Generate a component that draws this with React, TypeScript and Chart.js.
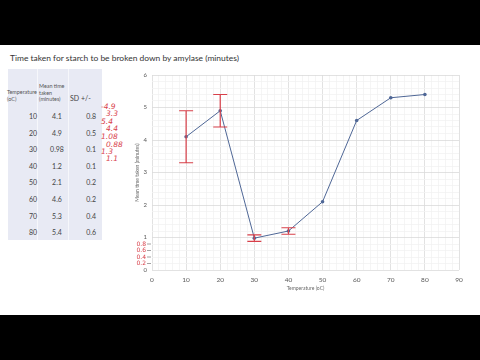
import { useEffect, useRef } from "react";
import { Chart, registerables } from "chart.js";

Chart.register(...registerables);

const temperatures = [10, 20, 30, 40, 50, 60, 70, 80];
const meanTimes = [4.1, 4.9, 0.98, 1.2, 2.1, 4.6, 5.3, 5.4];
const meanLabels = ["4.1", "4.9", "0.98", "1.2", "2.1", "4.6", "5.3", "5.4"];
const sdLabels = ["0.8", "0.5", "0.1", "0.1", "0.2", "0.2", "0.4", "0.6"];
const errorTemps = [10, 20, 30, 40];
const errorLow = [3.3, 4.4, 0.88, 1.1];
const errorHigh = [4.9, 5.4, 1.08, 1.3];
const noteLabels = ["-4.9", "3.3", "5.4", "4.4", "1.08", "0.88", "1.3", "1.1"];
const axisNoteValues = [0.8, 0.6, 0.4, 0.2];
const axisNoteLabels = ["0.8", "0.6", "0.4", "0.2"];

const TITLE = "Time taken for starch to be broken down by amylase (minutes)";
const RED = "#d8404a";
const LINE = "#4f6796";

const errorBarPlugin = {
  id: "errorBars",
  afterDatasetsDraw(chart: any) {
    const { ctx, scales } = chart;
    const x = scales.x;
    const y = scales.y;
    ctx.save();
    ctx.strokeStyle = RED;
    ctx.lineWidth = 1.2;
    errorTemps.forEach((t, i) => {
      const px = x.getPixelForValue(t);
      const top = y.getPixelForValue(errorHigh[i]);
      const bot = y.getPixelForValue(errorLow[i]);
      const cap = 7;
      ctx.beginPath();
      ctx.moveTo(px, top);
      ctx.lineTo(px, bot);
      ctx.moveTo(px - cap, top);
      ctx.lineTo(px + cap, top);
      ctx.moveTo(px - cap, bot);
      ctx.lineTo(px + cap, bot);
      ctx.stroke();
    });
    ctx.font = '6px "DejaVu Sans"';
    ctx.textAlign = "right";
    ctx.textBaseline = "middle";
    axisNoteValues.forEach((v, i) => {
      const py = y.getPixelForValue(v);
      ctx.fillStyle = RED;
      ctx.fillText(axisNoteLabels[i], x.left - 6, py);
      ctx.strokeStyle = "#8a8a8a";
      ctx.lineWidth = 0.8;
      ctx.beginPath();
      ctx.moveTo(x.left - 5, py);
      ctx.lineTo(x.left - 1, py);
      ctx.stroke();
    });
    ctx.restore();
  },
};

function isMultiple(v: number, step: number) {
  const r = v / step;
  return Math.abs(r - Math.round(r)) < 1e-6;
}

function ChartPanel() {
  const ref = useRef<HTMLCanvasElement | null>(null);
  useEffect(() => {
    if (!ref.current) return;
    const chart = new Chart(ref.current, {
      type: "line",
      data: {
        datasets: [
          {
            data: temperatures.map((t, i) => ({ x: t, y: meanTimes[i] })),
            borderColor: LINE,
            backgroundColor: LINE,
            borderWidth: 1,
            pointRadius: 1.8,
            pointBorderWidth: 0,
            tension: 0,
          },
        ],
      },
      plugins: [errorBarPlugin],
      options: {
        animation: false,
        responsive: false,
        maintainAspectRatio: false,
        layout: { padding: { top: 10, right: 16, left: 0, bottom: 0 } },
        plugins: { legend: { display: false }, tooltip: { enabled: false } },
        scales: {
          x: {
            type: "linear",
            min: 0,
            max: 90,
            afterFit: (s: any) => {
              s.height = 25;
            },
            ticks: {
              stepSize: 2,
              autoSkip: false,
              maxRotation: 0,
              padding: 6,
              color: "#595959",
              font: { family: "Lato", size: 6.5 },
              callback: (v: any) => (isMultiple(Number(v), 10) ? String(v) : ""),
            },
            grid: {
              drawTicks: false,
              color: (c: any) => (isMultiple(c.tick.value, 10) ? "#dadada" : "#f3f3f3"),
              lineWidth: 0.8,
            },
            border: { display: false },
            title: {
              display: true,
              text: "Temperature (oC)",
              color: "#6a6a6a",
              font: { family: "Lato", size: 5 },
              padding: { top: 4, bottom: 4 },
            },
          },
          y: {
            min: 0,
            max: 6,
            afterFit: (s: any) => {
              s.width = 22;
            },
            ticks: {
              stepSize: 0.2,
              autoSkip: false,
              padding: 5,
              color: "#595959",
              font: { family: "Lato", size: 6 },
              callback: (v: any) => (isMultiple(Number(v), 1) ? String(Math.round(Number(v))) : ""),
            },
            grid: {
              drawTicks: false,
              color: (c: any) => (isMultiple(c.tick.value, 1) ? "#dadada" : "#f3f3f3"),
              lineWidth: 0.8,
            },
            border: { display: false },
            title: {
              display: true,
              text: "Mean time taken (minutes)",
              color: "#6a6a6a",
              font: { family: "Lato", size: 5 },
              padding: { top: 4, bottom: 4 },
            },
          },
        },
      },
    });
    return () => chart.destroy();
  }, []);
  return (
    <canvas
      ref={ref}
      width={345}
      height={230}
      style={{ position: "absolute", left: 130, top: 65, width: 345, height: 230 }}
    />
  );
}

const abs = (extra: any) => ({ position: "absolute" as const, whiteSpace: "nowrap" as const, ...extra });

export default function App() {
  const rowTop = (i: number) => 116 + i * 16.6;
  return (
    <div
      style={{
        position: "fixed",
        left: 0,
        top: 0,
        width: 480,
        height: 360,
        background: "#000",
        overflow: "hidden",
        fontFamily: "Lato, 'Liberation Sans', sans-serif",
      }}
    >
      <div style={abs({ left: 0, top: 45, width: 480, height: 270, background: "#fff" })} />
      <div style={abs({ left: 10, top: 52, fontSize: 8.45, color: "#333", lineHeight: "12px" })}>{TITLE}</div>

      <div style={abs({ left: 8, top: 69, width: 94, height: 171, background: "#e8eaf4" })} />
      <div style={abs({ left: 37, top: 69, width: 1, height: 171, background: "rgba(255,255,255,0.6)" })} />
      <div style={abs({ left: 68, top: 69, width: 1, height: 171, background: "rgba(255,255,255,0.6)" })} />

      <div style={abs({ left: 7, top: 89, fontSize: 5.4, color: "#555", lineHeight: "6.5px" })}>
        Temperature
        <br />
        (oC)
      </div>
      <div style={abs({ left: 39, top: 83, fontSize: 5.4, color: "#555", lineHeight: "6.5px" })}>
        Mean time
        <br />
        taken
        <br />
        (minutes)
      </div>
      <div style={abs({ left: 70, top: 94, fontSize: 7, color: "#444", lineHeight: "9px" })}>SD +/-</div>

      {temperatures.map((t, i) => (
        <div key={"t" + i}>
          <div style={abs({ left: 23, width: 20, top: rowTop(i) - 5, fontSize: 7, color: "#444", textAlign: "center", lineHeight: "10px" })}>
            {String(t)}
          </div>
          <div style={abs({ left: 45, width: 24, top: rowTop(i) - 5, fontSize: 7, color: "#444", textAlign: "center", lineHeight: "10px" })}>
            {meanLabels[i]}
          </div>
          <div style={abs({ left: 75, width: 21, top: rowTop(i) - 5, fontSize: 7, color: "#444", textAlign: "right", lineHeight: "10px" })}>
            {sdLabels[i]}
          </div>
        </div>
      ))}

      {noteLabels.map((n, i) => (
        <div
          key={"n" + i}
          style={abs({
            left: i % 2 === 0 ? 101 : 106,
            top: [103, 110, 118, 125, 133, 141, 148, 155][i],
            fontSize: 7.5,
            color: RED,
            fontStyle: "italic",
            fontFamily: "'DejaVu Sans', sans-serif",
            lineHeight: "8px",
          })}
        >
          {n}
        </div>
      ))}

      <ChartPanel />
    </div>
  );
}
